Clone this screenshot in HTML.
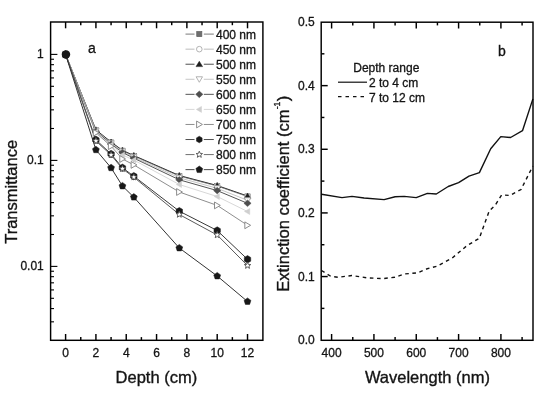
<!DOCTYPE html><html><head><meta charset="utf-8"><style>html,body{margin:0;padding:0;background:#fff;}svg{display:block;will-change:transform;}text{font-family:"Liberation Sans", sans-serif;fill:#141414;stroke:#141414;stroke-width:0.3px;}.big{stroke-width:0.35px;}</style></head><body>
<svg width="549" height="404" viewBox="0 0 549 404">
<rect x="0" y="0" width="549" height="404" fill="#fff"/>
<line x1="65.6" y1="340.3" x2="65.6" y2="334" stroke="#000" stroke-width="1.45"/>
<line x1="65.6" y1="22" x2="65.6" y2="28.3" stroke="#000" stroke-width="1.45"/>
<line x1="80.76" y1="340.3" x2="80.76" y2="337.1" stroke="#000" stroke-width="1.45"/>
<line x1="80.76" y1="22" x2="80.76" y2="25.2" stroke="#000" stroke-width="1.45"/>
<line x1="95.92" y1="340.3" x2="95.92" y2="334" stroke="#000" stroke-width="1.45"/>
<line x1="95.92" y1="22" x2="95.92" y2="28.3" stroke="#000" stroke-width="1.45"/>
<line x1="111.08" y1="340.3" x2="111.08" y2="337.1" stroke="#000" stroke-width="1.45"/>
<line x1="111.08" y1="22" x2="111.08" y2="25.2" stroke="#000" stroke-width="1.45"/>
<line x1="126.24" y1="340.3" x2="126.24" y2="334" stroke="#000" stroke-width="1.45"/>
<line x1="126.24" y1="22" x2="126.24" y2="28.3" stroke="#000" stroke-width="1.45"/>
<line x1="141.4" y1="340.3" x2="141.4" y2="337.1" stroke="#000" stroke-width="1.45"/>
<line x1="141.4" y1="22" x2="141.4" y2="25.2" stroke="#000" stroke-width="1.45"/>
<line x1="156.56" y1="340.3" x2="156.56" y2="334" stroke="#000" stroke-width="1.45"/>
<line x1="156.56" y1="22" x2="156.56" y2="28.3" stroke="#000" stroke-width="1.45"/>
<line x1="171.72" y1="340.3" x2="171.72" y2="337.1" stroke="#000" stroke-width="1.45"/>
<line x1="171.72" y1="22" x2="171.72" y2="25.2" stroke="#000" stroke-width="1.45"/>
<line x1="186.88" y1="340.3" x2="186.88" y2="334" stroke="#000" stroke-width="1.45"/>
<line x1="186.88" y1="22" x2="186.88" y2="28.3" stroke="#000" stroke-width="1.45"/>
<line x1="202.04" y1="340.3" x2="202.04" y2="337.1" stroke="#000" stroke-width="1.45"/>
<line x1="202.04" y1="22" x2="202.04" y2="25.2" stroke="#000" stroke-width="1.45"/>
<line x1="217.2" y1="340.3" x2="217.2" y2="334" stroke="#000" stroke-width="1.45"/>
<line x1="217.2" y1="22" x2="217.2" y2="28.3" stroke="#000" stroke-width="1.45"/>
<line x1="232.36" y1="340.3" x2="232.36" y2="337.1" stroke="#000" stroke-width="1.45"/>
<line x1="232.36" y1="22" x2="232.36" y2="25.2" stroke="#000" stroke-width="1.45"/>
<line x1="247.52" y1="340.3" x2="247.52" y2="334" stroke="#000" stroke-width="1.45"/>
<line x1="247.52" y1="22" x2="247.52" y2="28.3" stroke="#000" stroke-width="1.45"/>
<line x1="50.6" y1="54.4" x2="57.4" y2="54.4" stroke="#000" stroke-width="1.1"/>
<line x1="50.6" y1="160.4" x2="57.4" y2="160.4" stroke="#000" stroke-width="1.1"/>
<line x1="50.6" y1="266.4" x2="57.4" y2="266.4" stroke="#000" stroke-width="1.1"/>
<line x1="50.6" y1="321.83" x2="54" y2="321.83" stroke="#000" stroke-width="1.1"/>
<line x1="50.6" y1="308.58" x2="54" y2="308.58" stroke="#000" stroke-width="1.1"/>
<line x1="50.6" y1="298.31" x2="54" y2="298.31" stroke="#000" stroke-width="1.1"/>
<line x1="50.6" y1="289.92" x2="54" y2="289.92" stroke="#000" stroke-width="1.1"/>
<line x1="50.6" y1="282.82" x2="54" y2="282.82" stroke="#000" stroke-width="1.1"/>
<line x1="50.6" y1="276.67" x2="54" y2="276.67" stroke="#000" stroke-width="1.1"/>
<line x1="50.6" y1="271.25" x2="54" y2="271.25" stroke="#000" stroke-width="1.1"/>
<line x1="50.6" y1="234.49" x2="54" y2="234.49" stroke="#000" stroke-width="1.1"/>
<line x1="50.6" y1="215.83" x2="54" y2="215.83" stroke="#000" stroke-width="1.1"/>
<line x1="50.6" y1="202.58" x2="54" y2="202.58" stroke="#000" stroke-width="1.1"/>
<line x1="50.6" y1="192.31" x2="54" y2="192.31" stroke="#000" stroke-width="1.1"/>
<line x1="50.6" y1="183.92" x2="54" y2="183.92" stroke="#000" stroke-width="1.1"/>
<line x1="50.6" y1="176.82" x2="54" y2="176.82" stroke="#000" stroke-width="1.1"/>
<line x1="50.6" y1="170.67" x2="54" y2="170.67" stroke="#000" stroke-width="1.1"/>
<line x1="50.6" y1="165.25" x2="54" y2="165.25" stroke="#000" stroke-width="1.1"/>
<line x1="50.6" y1="128.49" x2="54" y2="128.49" stroke="#000" stroke-width="1.1"/>
<line x1="50.6" y1="109.83" x2="54" y2="109.83" stroke="#000" stroke-width="1.1"/>
<line x1="50.6" y1="96.58" x2="54" y2="96.58" stroke="#000" stroke-width="1.1"/>
<line x1="50.6" y1="86.31" x2="54" y2="86.31" stroke="#000" stroke-width="1.1"/>
<line x1="50.6" y1="77.92" x2="54" y2="77.92" stroke="#000" stroke-width="1.1"/>
<line x1="50.6" y1="70.82" x2="54" y2="70.82" stroke="#000" stroke-width="1.1"/>
<line x1="50.6" y1="64.67" x2="54" y2="64.67" stroke="#000" stroke-width="1.1"/>
<line x1="50.6" y1="59.25" x2="54" y2="59.25" stroke="#000" stroke-width="1.1"/>
<polyline points="65.6,54.5 95.92,130.3 111.08,142.5 122.45,150.8 133.82,156 179.3,176 217.2,186 247.52,196.5" fill="none" stroke="#7a7a7a" stroke-width="1"/>
<polyline points="65.6,54.5 95.92,130 111.08,142.2 122.45,150.5 133.82,155.8 179.3,175.8 217.2,185.8 247.52,196.3" fill="none" stroke="#bdbdbd" stroke-width="1"/>
<polyline points="65.6,54.5 95.92,129.8 111.08,142 122.45,150.3 133.82,155.5 179.3,175.5 217.2,185.5 247.52,196" fill="none" stroke="#3a3a3a" stroke-width="1"/>
<polyline points="65.6,54.5 95.92,130.8 111.08,143.2 122.45,151.6 133.82,157.2 179.3,177.8 217.2,188.3 247.52,200.3" fill="none" stroke="#c6c6c6" stroke-width="1"/>
<polyline points="65.6,54.5 95.92,131.3 111.08,144 122.45,152.5 133.82,158.2 179.3,179.8 217.2,190.6 247.52,203.3" fill="none" stroke="#555555" stroke-width="1"/>
<polyline points="65.6,54.5 95.92,132 111.08,145 122.45,155 133.82,160 179.3,184.5 217.2,196.5 247.52,211.5" fill="none" stroke="#d8d8d8" stroke-width="1"/>
<polyline points="65.6,54.5 95.92,132.8 111.08,146.2 122.45,159 133.82,164.9 179.3,192 217.2,205.4 247.52,225.3" fill="none" stroke="#8e8e8e" stroke-width="1"/>
<polyline points="65.6,54.5 95.92,139.8 111.08,154 122.45,167.8 133.82,176.2 179.3,211.2 217.2,230.5 247.52,259.3" fill="none" stroke="#3a3a3a" stroke-width="1"/>
<polyline points="65.6,54.5 95.92,141 111.08,155 122.45,168.8 133.82,177.2 179.3,214.5 217.2,235 247.52,265.6" fill="none" stroke="#5a5a5a" stroke-width="1"/>
<polyline points="65.6,54.5 95.92,149.8 111.08,167.8 122.45,186 133.82,197.2 179.3,248 217.2,276 247.52,301.5" fill="none" stroke="#333333" stroke-width="1"/>
<rect x="63.05" y="51.95" width="5.1" height="5.1" fill="#6e6e6e" stroke="#5e5e5e" stroke-width="0.7"/>
<rect x="93.37" y="127.75" width="5.1" height="5.1" fill="#6e6e6e" stroke="#5e5e5e" stroke-width="0.7"/>
<rect x="108.53" y="139.95" width="5.1" height="5.1" fill="#6e6e6e" stroke="#5e5e5e" stroke-width="0.7"/>
<rect x="119.9" y="148.25" width="5.1" height="5.1" fill="#6e6e6e" stroke="#5e5e5e" stroke-width="0.7"/>
<rect x="131.27" y="153.45" width="5.1" height="5.1" fill="#6e6e6e" stroke="#5e5e5e" stroke-width="0.7"/>
<rect x="176.75" y="173.45" width="5.1" height="5.1" fill="#6e6e6e" stroke="#5e5e5e" stroke-width="0.7"/>
<rect x="214.65" y="183.45" width="5.1" height="5.1" fill="#6e6e6e" stroke="#5e5e5e" stroke-width="0.7"/>
<rect x="244.97" y="193.95" width="5.1" height="5.1" fill="#6e6e6e" stroke="#5e5e5e" stroke-width="0.7"/>
<circle cx="65.6" cy="54.5" r="2.8" fill="#fff" stroke="#aaaaaa" stroke-width="0.9"/>
<circle cx="95.92" cy="130" r="2.8" fill="#fff" stroke="#aaaaaa" stroke-width="0.9"/>
<circle cx="111.08" cy="142.2" r="2.8" fill="#fff" stroke="#aaaaaa" stroke-width="0.9"/>
<circle cx="122.45" cy="150.5" r="2.8" fill="#fff" stroke="#aaaaaa" stroke-width="0.9"/>
<circle cx="133.82" cy="155.8" r="2.8" fill="#fff" stroke="#aaaaaa" stroke-width="0.9"/>
<circle cx="179.3" cy="175.8" r="2.8" fill="#fff" stroke="#aaaaaa" stroke-width="0.9"/>
<circle cx="217.2" cy="185.8" r="2.8" fill="#fff" stroke="#aaaaaa" stroke-width="0.9"/>
<circle cx="247.52" cy="196.3" r="2.8" fill="#fff" stroke="#aaaaaa" stroke-width="0.9"/>
<polygon points="65.6,51.5 68.9,56.9 62.3,56.9" fill="#1e1e1e" stroke="#1e1e1e" stroke-width="0.5"/>
<polygon points="95.92,126.8 99.22,132.2 92.62,132.2" fill="#1e1e1e" stroke="#1e1e1e" stroke-width="0.5"/>
<polygon points="111.08,139 114.38,144.4 107.78,144.4" fill="#1e1e1e" stroke="#1e1e1e" stroke-width="0.5"/>
<polygon points="122.45,147.3 125.75,152.7 119.15,152.7" fill="#1e1e1e" stroke="#1e1e1e" stroke-width="0.5"/>
<polygon points="133.82,152.5 137.12,157.9 130.52,157.9" fill="#1e1e1e" stroke="#1e1e1e" stroke-width="0.5"/>
<polygon points="179.3,172.5 182.6,177.9 176,177.9" fill="#1e1e1e" stroke="#1e1e1e" stroke-width="0.5"/>
<polygon points="217.2,182.5 220.5,187.9 213.9,187.9" fill="#1e1e1e" stroke="#1e1e1e" stroke-width="0.5"/>
<polygon points="247.52,193 250.82,198.4 244.22,198.4" fill="#1e1e1e" stroke="#1e1e1e" stroke-width="0.5"/>
<polygon points="65.6,57.5 68.8,52 62.4,52" fill="#fff" stroke="#aaaaaa" stroke-width="0.9"/>
<polygon points="95.92,133.8 99.12,128.3 92.72,128.3" fill="#fff" stroke="#aaaaaa" stroke-width="0.9"/>
<polygon points="111.08,146.2 114.28,140.7 107.88,140.7" fill="#fff" stroke="#aaaaaa" stroke-width="0.9"/>
<polygon points="122.45,154.6 125.65,149.1 119.25,149.1" fill="#fff" stroke="#aaaaaa" stroke-width="0.9"/>
<polygon points="133.82,160.2 137.02,154.7 130.62,154.7" fill="#fff" stroke="#aaaaaa" stroke-width="0.9"/>
<polygon points="179.3,180.8 182.5,175.3 176.1,175.3" fill="#fff" stroke="#aaaaaa" stroke-width="0.9"/>
<polygon points="217.2,191.3 220.4,185.8 214,185.8" fill="#fff" stroke="#aaaaaa" stroke-width="0.9"/>
<polygon points="247.52,203.3 250.72,197.8 244.32,197.8" fill="#fff" stroke="#aaaaaa" stroke-width="0.9"/>
<polygon points="65.6,51.2 69.2,54.5 65.6,57.8 62,54.5" fill="#4e4e4e" stroke="#4e4e4e" stroke-width="0.5"/>
<polygon points="95.92,128 99.52,131.3 95.92,134.6 92.32,131.3" fill="#4e4e4e" stroke="#4e4e4e" stroke-width="0.5"/>
<polygon points="111.08,140.7 114.68,144 111.08,147.3 107.48,144" fill="#4e4e4e" stroke="#4e4e4e" stroke-width="0.5"/>
<polygon points="122.45,149.2 126.05,152.5 122.45,155.8 118.85,152.5" fill="#4e4e4e" stroke="#4e4e4e" stroke-width="0.5"/>
<polygon points="133.82,154.9 137.42,158.2 133.82,161.5 130.22,158.2" fill="#4e4e4e" stroke="#4e4e4e" stroke-width="0.5"/>
<polygon points="179.3,176.5 182.9,179.8 179.3,183.1 175.7,179.8" fill="#4e4e4e" stroke="#4e4e4e" stroke-width="0.5"/>
<polygon points="217.2,187.3 220.8,190.6 217.2,193.9 213.6,190.6" fill="#4e4e4e" stroke="#4e4e4e" stroke-width="0.5"/>
<polygon points="247.52,200 251.12,203.3 247.52,206.6 243.92,203.3" fill="#4e4e4e" stroke="#4e4e4e" stroke-width="0.5"/>
<polygon points="62.6,54.5 67.8,51.5 67.8,57.5" fill="#cfcfcf" stroke="#cfcfcf" stroke-width="0.5"/>
<polygon points="92.92,132 98.12,129 98.12,135" fill="#cfcfcf" stroke="#cfcfcf" stroke-width="0.5"/>
<polygon points="108.08,145 113.28,142 113.28,148" fill="#cfcfcf" stroke="#cfcfcf" stroke-width="0.5"/>
<polygon points="119.45,155 124.65,152 124.65,158" fill="#cfcfcf" stroke="#cfcfcf" stroke-width="0.5"/>
<polygon points="130.82,160 136.02,157 136.02,163" fill="#cfcfcf" stroke="#cfcfcf" stroke-width="0.5"/>
<polygon points="176.3,184.5 181.5,181.5 181.5,187.5" fill="#cfcfcf" stroke="#cfcfcf" stroke-width="0.5"/>
<polygon points="214.2,196.5 219.4,193.5 219.4,199.5" fill="#cfcfcf" stroke="#cfcfcf" stroke-width="0.5"/>
<polygon points="244.52,211.5 249.72,208.5 249.72,214.5" fill="#cfcfcf" stroke="#cfcfcf" stroke-width="0.5"/>
<polygon points="68.7,54.5 62.9,51.1 62.9,57.9" fill="#fff" stroke="#808080" stroke-width="0.9"/>
<polygon points="99.02,132.8 93.22,129.4 93.22,136.2" fill="#fff" stroke="#808080" stroke-width="0.9"/>
<polygon points="114.18,146.2 108.38,142.8 108.38,149.6" fill="#fff" stroke="#808080" stroke-width="0.9"/>
<polygon points="125.55,159 119.75,155.6 119.75,162.4" fill="#fff" stroke="#808080" stroke-width="0.9"/>
<polygon points="136.92,164.9 131.12,161.5 131.12,168.3" fill="#fff" stroke="#808080" stroke-width="0.9"/>
<polygon points="182.4,192 176.6,188.6 176.6,195.4" fill="#fff" stroke="#808080" stroke-width="0.9"/>
<polygon points="220.3,205.4 214.5,202 214.5,208.8" fill="#fff" stroke="#808080" stroke-width="0.9"/>
<polygon points="250.62,225.3 244.82,221.9 244.82,228.7" fill="#fff" stroke="#808080" stroke-width="0.9"/>
<polygon points="65.6,58.2 62.4,56.35 62.4,52.65 65.6,50.8 68.8,52.65 68.8,56.35" fill="#181818" stroke="#181818" stroke-width="0.5"/>
<polygon points="95.92,143.5 92.72,141.65 92.72,137.95 95.92,136.1 99.12,137.95 99.12,141.65" fill="#181818" stroke="#181818" stroke-width="0.5"/>
<polygon points="111.08,157.7 107.88,155.85 107.88,152.15 111.08,150.3 114.28,152.15 114.28,155.85" fill="#181818" stroke="#181818" stroke-width="0.5"/>
<polygon points="122.45,171.5 119.25,169.65 119.25,165.95 122.45,164.1 125.65,165.95 125.65,169.65" fill="#181818" stroke="#181818" stroke-width="0.5"/>
<polygon points="133.82,179.9 130.62,178.05 130.62,174.35 133.82,172.5 137.02,174.35 137.02,178.05" fill="#181818" stroke="#181818" stroke-width="0.5"/>
<polygon points="179.3,214.9 176.1,213.05 176.1,209.35 179.3,207.5 182.5,209.35 182.5,213.05" fill="#181818" stroke="#181818" stroke-width="0.5"/>
<polygon points="217.2,234.2 214,232.35 214,228.65 217.2,226.8 220.4,228.65 220.4,232.35" fill="#181818" stroke="#181818" stroke-width="0.5"/>
<polygon points="247.52,263 244.32,261.15 244.32,257.45 247.52,255.6 250.72,257.45 250.72,261.15" fill="#181818" stroke="#181818" stroke-width="0.5"/>
<polygon points="65.6,51.1 66.48,53.29 68.83,53.45 67.03,54.96 67.6,57.25 65.6,56 63.6,57.25 64.17,54.96 62.37,53.45 64.72,53.29" fill="#fff" stroke="#505050" stroke-width="0.9"/>
<polygon points="95.92,137.6 96.8,139.79 99.15,139.95 97.35,141.46 97.92,143.75 95.92,142.5 93.92,143.75 94.49,141.46 92.69,139.95 95.04,139.79" fill="#fff" stroke="#505050" stroke-width="0.9"/>
<polygon points="111.08,151.6 111.96,153.79 114.31,153.95 112.51,155.46 113.08,157.75 111.08,156.5 109.08,157.75 109.65,155.46 107.85,153.95 110.2,153.79" fill="#fff" stroke="#505050" stroke-width="0.9"/>
<polygon points="122.45,165.4 123.33,167.59 125.68,167.75 123.88,169.26 124.45,171.55 122.45,170.3 120.45,171.55 121.02,169.26 119.22,167.75 121.57,167.59" fill="#fff" stroke="#505050" stroke-width="0.9"/>
<polygon points="133.82,173.8 134.7,175.99 137.05,176.15 135.25,177.66 135.82,179.95 133.82,178.7 131.82,179.95 132.39,177.66 130.59,176.15 132.94,175.99" fill="#fff" stroke="#505050" stroke-width="0.9"/>
<polygon points="179.3,211.1 180.18,213.29 182.53,213.45 180.73,214.96 181.3,217.25 179.3,216 177.3,217.25 177.87,214.96 176.07,213.45 178.42,213.29" fill="#fff" stroke="#505050" stroke-width="0.9"/>
<polygon points="217.2,231.6 218.08,233.79 220.43,233.95 218.63,235.46 219.2,237.75 217.2,236.5 215.2,237.75 215.77,235.46 213.97,233.95 216.32,233.79" fill="#fff" stroke="#505050" stroke-width="0.9"/>
<polygon points="247.52,262.2 248.4,264.39 250.75,264.55 248.95,266.06 249.52,268.35 247.52,267.1 245.52,268.35 246.09,266.06 244.29,264.55 246.64,264.39" fill="#fff" stroke="#505050" stroke-width="0.9"/>
<polygon points="65.6,50.9 69.02,53.39 67.72,57.41 63.48,57.41 62.18,53.39" fill="#181818" stroke="#181818" stroke-width="0.5"/>
<polygon points="95.92,146.2 99.34,148.69 98.04,152.71 93.8,152.71 92.5,148.69" fill="#181818" stroke="#181818" stroke-width="0.5"/>
<polygon points="111.08,164.2 114.5,166.69 113.2,170.71 108.96,170.71 107.66,166.69" fill="#181818" stroke="#181818" stroke-width="0.5"/>
<polygon points="122.45,182.4 125.87,184.89 124.57,188.91 120.33,188.91 119.03,184.89" fill="#181818" stroke="#181818" stroke-width="0.5"/>
<polygon points="133.82,193.6 137.24,196.09 135.94,200.11 131.7,200.11 130.4,196.09" fill="#181818" stroke="#181818" stroke-width="0.5"/>
<polygon points="179.3,244.4 182.72,246.89 181.42,250.91 177.18,250.91 175.88,246.89" fill="#181818" stroke="#181818" stroke-width="0.5"/>
<polygon points="217.2,272.4 220.62,274.89 219.32,278.91 215.08,278.91 213.78,274.89" fill="#181818" stroke="#181818" stroke-width="0.5"/>
<polygon points="247.52,297.9 250.94,300.39 249.64,304.41 245.4,304.41 244.1,300.39" fill="#181818" stroke="#181818" stroke-width="0.5"/>
<circle cx="66" cy="54.5" r="4.2" fill="#181818"/>
<rect x="50.6" y="22" width="212.3" height="318.3" fill="none" stroke="#000" stroke-width="1.45"/>
<line x1="185.5" y1="34.1" x2="194.5" y2="34.1" stroke="#7a7a7a" stroke-width="1.0"/>
<line x1="203.8" y1="34.1" x2="213.8" y2="34.1" stroke="#7a7a7a" stroke-width="1.0"/>
<rect x="196.75" y="31.55" width="5.1" height="5.1" fill="#6e6e6e" stroke="#5e5e5e" stroke-width="0.7"/>
<text x="216" y="38.7" font-size="12" text-anchor="start" >400 nm</text>
<line x1="185.5" y1="49.16" x2="194.5" y2="49.16" stroke="#bdbdbd" stroke-width="1.0"/>
<line x1="203.8" y1="49.16" x2="213.8" y2="49.16" stroke="#bdbdbd" stroke-width="1.0"/>
<circle cx="199.3" cy="49.16" r="2.8" fill="#fff" stroke="#aaaaaa" stroke-width="0.9"/>
<text x="216" y="53.76" font-size="12" text-anchor="start" >450 nm</text>
<line x1="185.5" y1="64.22" x2="194.5" y2="64.22" stroke="#505050" stroke-width="1.0"/>
<line x1="203.8" y1="64.22" x2="213.8" y2="64.22" stroke="#505050" stroke-width="1.0"/>
<polygon points="199.3,61.22 202.6,66.62 196,66.62" fill="#1e1e1e" stroke="#1e1e1e" stroke-width="0.5"/>
<text x="216" y="68.82" font-size="12" text-anchor="start" >500 nm</text>
<line x1="185.5" y1="79.28" x2="194.5" y2="79.28" stroke="#c6c6c6" stroke-width="1.0"/>
<line x1="203.8" y1="79.28" x2="213.8" y2="79.28" stroke="#c6c6c6" stroke-width="1.0"/>
<polygon points="199.3,82.28 202.5,76.78 196.1,76.78" fill="#fff" stroke="#aaaaaa" stroke-width="0.9"/>
<text x="216" y="83.88" font-size="12" text-anchor="start" >550 nm</text>
<line x1="185.5" y1="94.34" x2="194.5" y2="94.34" stroke="#555555" stroke-width="1.0"/>
<line x1="203.8" y1="94.34" x2="213.8" y2="94.34" stroke="#555555" stroke-width="1.0"/>
<polygon points="199.3,91.04 202.9,94.34 199.3,97.64 195.7,94.34" fill="#4e4e4e" stroke="#4e4e4e" stroke-width="0.5"/>
<text x="216" y="98.94" font-size="12" text-anchor="start" >600 nm</text>
<line x1="185.5" y1="109.4" x2="194.5" y2="109.4" stroke="#d8d8d8" stroke-width="1.0"/>
<line x1="203.8" y1="109.4" x2="213.8" y2="109.4" stroke="#d8d8d8" stroke-width="1.0"/>
<polygon points="196.3,109.4 201.5,106.4 201.5,112.4" fill="#cfcfcf" stroke="#cfcfcf" stroke-width="0.5"/>
<text x="216" y="114" font-size="12" text-anchor="start" >650 nm</text>
<line x1="185.5" y1="124.46" x2="194.5" y2="124.46" stroke="#8e8e8e" stroke-width="1.0"/>
<line x1="203.8" y1="124.46" x2="213.8" y2="124.46" stroke="#8e8e8e" stroke-width="1.0"/>
<polygon points="202.4,124.46 196.6,121.06 196.6,127.86" fill="#fff" stroke="#808080" stroke-width="0.9"/>
<text x="216" y="129.06" font-size="12" text-anchor="start" >700 nm</text>
<line x1="185.5" y1="139.52" x2="194.5" y2="139.52" stroke="#505050" stroke-width="1.0"/>
<line x1="203.8" y1="139.52" x2="213.8" y2="139.52" stroke="#505050" stroke-width="1.0"/>
<polygon points="199.3,142.78 196.48,141.15 196.48,137.89 199.3,136.26 202.12,137.89 202.12,141.15" fill="#181818" stroke="#181818" stroke-width="0.5"/>
<text x="216" y="144.12" font-size="12" text-anchor="start" >750 nm</text>
<line x1="185.5" y1="154.58" x2="194.5" y2="154.58" stroke="#707070" stroke-width="1.0"/>
<line x1="203.8" y1="154.58" x2="213.8" y2="154.58" stroke="#707070" stroke-width="1.0"/>
<polygon points="199.3,151.18 200.18,153.37 202.53,153.53 200.73,155.04 201.3,157.33 199.3,156.08 197.3,157.33 197.87,155.04 196.07,153.53 198.42,153.37" fill="#fff" stroke="#505050" stroke-width="0.9"/>
<text x="216" y="159.18" font-size="12" text-anchor="start" >800 nm</text>
<line x1="185.5" y1="169.64" x2="194.5" y2="169.64" stroke="#484848" stroke-width="1.0"/>
<line x1="203.8" y1="169.64" x2="213.8" y2="169.64" stroke="#484848" stroke-width="1.0"/>
<polygon points="199.3,166.04 202.72,168.53 201.42,172.55 197.18,172.55 195.88,168.53" fill="#181818" stroke="#181818" stroke-width="0.5"/>
<text x="216" y="174.24" font-size="12" text-anchor="start" >850 nm</text>
<text x="65.6" y="356.5" font-size="12" text-anchor="middle" >0</text>
<text x="95.92" y="356.5" font-size="12" text-anchor="middle" >2</text>
<text x="126.24" y="356.5" font-size="12" text-anchor="middle" >4</text>
<text x="156.56" y="356.5" font-size="12" text-anchor="middle" >6</text>
<text x="186.88" y="356.5" font-size="12" text-anchor="middle" >8</text>
<text x="217.2" y="356.5" font-size="12" text-anchor="middle" >10</text>
<text x="247.52" y="356.5" font-size="12" text-anchor="middle" >12</text>
<text x="43.8" y="58.3" font-size="12" text-anchor="end" >1</text>
<text x="43.8" y="164.4" font-size="12" text-anchor="end" >0.1</text>
<text x="43.8" y="270.4" font-size="12" text-anchor="end" >0.01</text>
<text x="92" y="53" font-size="14" text-anchor="middle" >a</text>
<text x="156.4" y="382.7" font-size="16.5" text-anchor="middle" class="big">Depth (cm)</text>
<text class="big" x="0" y="0" font-size="16.5" text-anchor="middle" transform="translate(17.0 191.8) rotate(-90)">Transmittance</text>
<line x1="331.6" y1="340.3" x2="331.6" y2="334" stroke="#000" stroke-width="1.45"/>
<line x1="331.6" y1="22.2" x2="331.6" y2="28.5" stroke="#000" stroke-width="1.45"/>
<line x1="352.77" y1="340.3" x2="352.77" y2="337.1" stroke="#000" stroke-width="1.45"/>
<line x1="352.77" y1="22.2" x2="352.77" y2="25.4" stroke="#000" stroke-width="1.45"/>
<line x1="373.93" y1="340.3" x2="373.93" y2="334" stroke="#000" stroke-width="1.45"/>
<line x1="373.93" y1="22.2" x2="373.93" y2="28.5" stroke="#000" stroke-width="1.45"/>
<line x1="395.1" y1="340.3" x2="395.1" y2="337.1" stroke="#000" stroke-width="1.45"/>
<line x1="395.1" y1="22.2" x2="395.1" y2="25.4" stroke="#000" stroke-width="1.45"/>
<line x1="416.26" y1="340.3" x2="416.26" y2="334" stroke="#000" stroke-width="1.45"/>
<line x1="416.26" y1="22.2" x2="416.26" y2="28.5" stroke="#000" stroke-width="1.45"/>
<line x1="437.43" y1="340.3" x2="437.43" y2="337.1" stroke="#000" stroke-width="1.45"/>
<line x1="437.43" y1="22.2" x2="437.43" y2="25.4" stroke="#000" stroke-width="1.45"/>
<line x1="458.59" y1="340.3" x2="458.59" y2="334" stroke="#000" stroke-width="1.45"/>
<line x1="458.59" y1="22.2" x2="458.59" y2="28.5" stroke="#000" stroke-width="1.45"/>
<line x1="479.75" y1="340.3" x2="479.75" y2="337.1" stroke="#000" stroke-width="1.45"/>
<line x1="479.75" y1="22.2" x2="479.75" y2="25.4" stroke="#000" stroke-width="1.45"/>
<line x1="500.92" y1="340.3" x2="500.92" y2="334" stroke="#000" stroke-width="1.45"/>
<line x1="500.92" y1="22.2" x2="500.92" y2="28.5" stroke="#000" stroke-width="1.45"/>
<line x1="522.09" y1="340.3" x2="522.09" y2="337.1" stroke="#000" stroke-width="1.45"/>
<line x1="522.09" y1="22.2" x2="522.09" y2="25.4" stroke="#000" stroke-width="1.45"/>
<line x1="321.2" y1="308.38" x2="324.4" y2="308.38" stroke="#000" stroke-width="1.45"/>
<line x1="321.2" y1="276.56" x2="327.7" y2="276.56" stroke="#000" stroke-width="1.45"/>
<line x1="321.2" y1="244.74" x2="324.4" y2="244.74" stroke="#000" stroke-width="1.45"/>
<line x1="321.2" y1="212.92" x2="327.7" y2="212.92" stroke="#000" stroke-width="1.45"/>
<line x1="321.2" y1="181.1" x2="324.4" y2="181.1" stroke="#000" stroke-width="1.45"/>
<line x1="321.2" y1="149.28" x2="327.7" y2="149.28" stroke="#000" stroke-width="1.45"/>
<line x1="321.2" y1="117.46" x2="324.4" y2="117.46" stroke="#000" stroke-width="1.45"/>
<line x1="321.2" y1="85.64" x2="327.7" y2="85.64" stroke="#000" stroke-width="1.45"/>
<line x1="321.2" y1="53.82" x2="324.4" y2="53.82" stroke="#000" stroke-width="1.45"/>
<polyline points="321.5,194.2 342,197.6 352,196.4 364.1,198 384.1,199.6 395.1,196.8 404.2,196.4 416.2,197.6 427.4,193.4 436.3,194 448.2,186.5 458.6,182.7 469,176.1 479.4,172.6 490.7,148.8 500.8,136.6 510.6,137.5 522.5,130.7 532.9,98.9" fill="none" stroke="#111" stroke-width="1.4" stroke-linejoin="round"/>
<polyline points="321.5,270.5 330.9,276.4 338.2,277.3 351.9,275.5 367.4,277.9 382.8,278.6 394.7,277.3 404.7,273.9 417.4,272.9 427.3,268.7 437.2,266.2 452.1,258.1 466.9,245.7 479.3,238.3 489.2,211 495.4,204.9 501.6,195 510,195.4 521,189.5 532.9,166" fill="none" stroke="#111" stroke-width="1.4" stroke-dasharray="3.6 3.6"/>
<rect x="321.2" y="22.2" width="211.8" height="318.1" fill="none" stroke="#000" stroke-width="1.45"/>
<text x="331.6" y="356.5" font-size="12" text-anchor="middle" >400</text>
<text x="373.93" y="356.5" font-size="12" text-anchor="middle" >500</text>
<text x="416.26" y="356.5" font-size="12" text-anchor="middle" >600</text>
<text x="458.59" y="356.5" font-size="12" text-anchor="middle" >700</text>
<text x="500.92" y="356.5" font-size="12" text-anchor="middle" >800</text>
<text x="314.8" y="344.4" font-size="12" text-anchor="end" >0.0</text>
<text x="314.8" y="280.76" font-size="12" text-anchor="end" >0.1</text>
<text x="314.8" y="217.12" font-size="12" text-anchor="end" >0.2</text>
<text x="314.8" y="153.48" font-size="12" text-anchor="end" >0.3</text>
<text x="314.8" y="89.84" font-size="12" text-anchor="end" >0.4</text>
<text x="314.8" y="26.2" font-size="12" text-anchor="end" >0.5</text>
<text x="502" y="55.7" font-size="14" text-anchor="middle" >b</text>
<text x="386.3" y="72" font-size="12" text-anchor="middle" >Depth range</text>
<line x1="338" y1="82.2" x2="367" y2="82.2" stroke="#111" stroke-width="1.2"/>
<text x="369" y="86.8" font-size="12" text-anchor="start" >2 to 4 cm</text>
<line x1="338" y1="96.6" x2="367" y2="96.6" stroke="#111" stroke-width="1.2" stroke-dasharray="3.5 4"/>
<text x="369" y="101.5" font-size="12" text-anchor="start" >7 to 12 cm</text>
<text x="427.4" y="383" font-size="16.5" text-anchor="middle" class="big">Wavelength (nm)</text>
<text class="big" x="0" y="0" font-size="16.5" text-anchor="middle" transform="translate(288.8 193.7) rotate(-90)">Extinction coefficient (cm<tspan font-size="8.5" dy="-8.5" dx="0.3">-1</tspan><tspan dy="8.5" dx="0.5">)</tspan></text>
</svg></body></html>
